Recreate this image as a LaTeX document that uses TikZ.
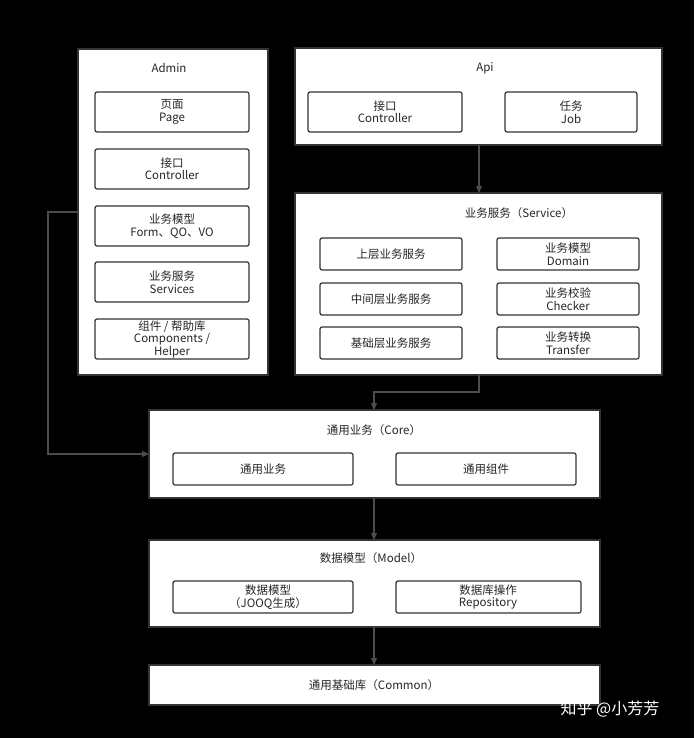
\documentclass[tikz,border=0pt]{standalone}
\usepackage{fontspec}
\setmainfont{Noto Sans CJK SC}
\usetikzlibrary{arrows.meta}
\begin{document}
\begin{tikzpicture}[x=1pt,y=-1pt,
 outer/.style={draw=black!80,line width=1.2pt,fill=white},
 inner/.style={draw=black!80,line width=1.2pt,fill=white,rounded corners=2pt},
 lbl/.style={font=\fontsize{11.5}{12.5}\selectfont,align=center,text=black!85,inner sep=0},
 conn/.style={draw=black!70,line width=1.2pt,-{Triangle[length=7pt,width=6pt]}}]
\fill[black] (0,0) rectangle (694,738);
\useasboundingbox (0,0) rectangle (694,738);
% Admin
\draw[outer] (78,49) rectangle (268,375);
\node[lbl] (tadmin) at (169,68) {Admin};
\foreach \y/\t [count=\i] in {92/{页面\\Page},149/{接口\\Controller},206/{业务模型\\Form、QO、VO},262/{业务服务\\Services},319/{组件 / 帮助库\\Components /\\Helper}}{
 \draw[inner] (95,\y) rectangle (249,\y+40);
 \node[lbl] (a\i) at (172,\y+20) {\t};}
% Api
\draw[outer] (295,48) rectangle (662,145);
\node[lbl] (tapi) at (485,68) {Api};
\draw[inner] (308,92) rectangle (462,132); \node[lbl] (api1) at (385,112) {接口\\Controller};
\draw[inner] (505,92) rectangle (637,132); \node[lbl] (api2) at (571,112) {任务\\Job};
% Service
\draw[outer] (295,193) rectangle (662,375);
\node[lbl] (tsvc) at (519,213) {业务服务（Service）};
\foreach \y/\t [count=\i] in {238/{上层业务服务},283/{中间层业务服务},327/{基础层业务服务}}{
 \draw[inner] (320,\y) rectangle (462,\y+32); \node[lbl] (sl\i) at (391,\y+16) {\t};}
\foreach \y/\t [count=\i] in {238/{业务模型\\Domain},283/{业务校验\\Checker},327/{业务转换\\Transfer}}{
 \draw[inner] (497,\y) rectangle (639,\y+32); \node[lbl] (sr\i) at (568,\y+16) {\t};}
% Core
\draw[outer] (149,410) rectangle (600,498);
\node[lbl] (tcore) at (374,430) {通用业务（Core）};
\draw[inner] (173,453) rectangle (353,485); \node[lbl] (c1) at (263,469) {通用业务};
\draw[inner] (396,453) rectangle (576,485); \node[lbl] (c2) at (486,469) {通用组件};
% Model
\draw[outer] (149,540) rectangle (600,627);
\node[lbl] (tmodel) at (371,558) {数据模型（Model）};
\draw[inner] (173,581) rectangle (353,613); \node[lbl] (m1) at (268,597) {数据模型\\（JOOQ生成）};
\draw[inner] (396,581) rectangle (581,613); \node[lbl] (m2) at (488,597) {数据库操作\\Repository};
% Common
\draw[outer] (149,665) rectangle (600,705);
\node[lbl] (tcommon) at (374,685) {通用基础库（Common）};
% connectors
\coordinate (apiB) at (479,145); \coordinate (svcT) at (479,193);
\coordinate (svcB) at (479,375); \coordinate (coreT) at (374,410);
\coordinate (coreB) at (374,498); \coordinate (modT) at (374,540);
\coordinate (modB) at (374,627); \coordinate (comT) at (374,665);
\coordinate (admL) at (78,212); \coordinate (coreL) at (149,454);
\draw[conn] (apiB) -- (svcT);
\draw[conn] (svcB) -- (479,392) -- (374,392) -- (coreT);
\draw[conn] (coreB) -- (modT);
\draw[conn] (modB) -- (comT);
\draw[conn] (admL) -- (48,212) -- (48,454) -- (coreL);
\node[text=white,font=\fontsize{16}{18}\selectfont,inner sep=0] (wm) at (610,709) {知乎 @小芳芳};
\end{tikzpicture}
\end{document}
